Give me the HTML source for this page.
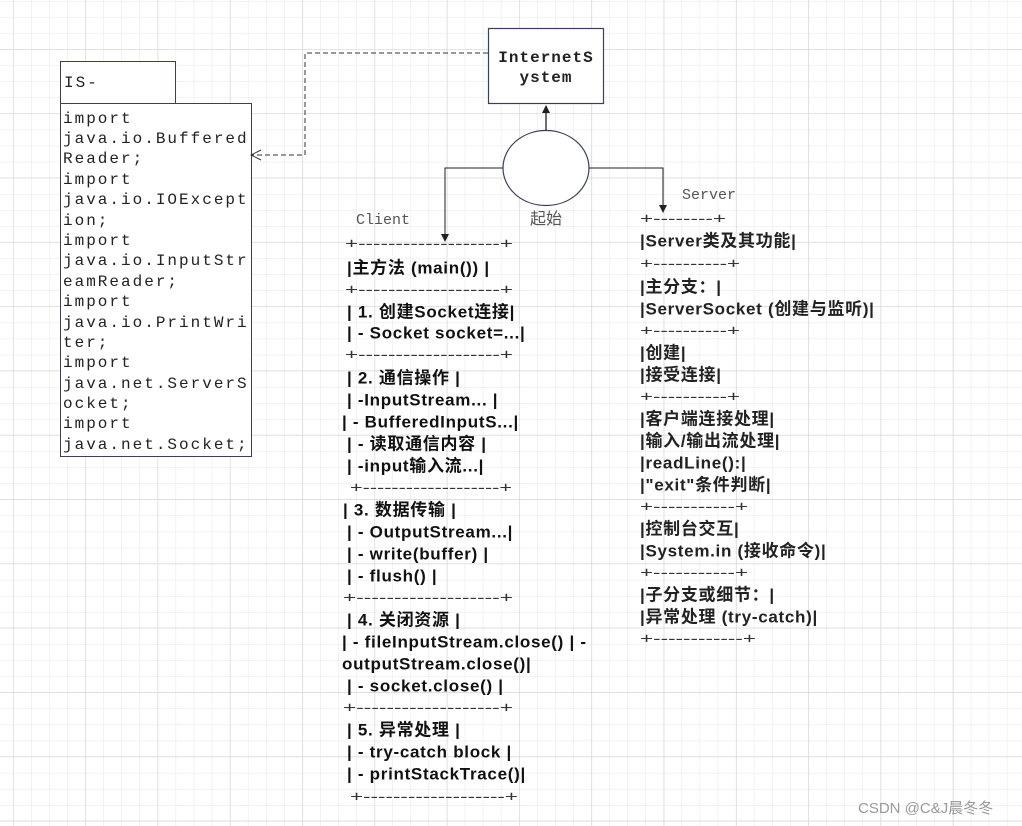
<!DOCTYPE html>
<html><head><meta charset="utf-8"><style>
html,body{margin:0;padding:0;background:#fff}
svg{display:block}
.m{font-family:"Liberation Mono","Noto Serif CJK SC",monospace;font-size:16px;fill:#222;letter-spacing:2px}
.b{font-family:"Liberation Sans","Noto Sans CJK SC",sans-serif;font-size:17px;font-weight:bold;fill:#111;letter-spacing:0.7px}
.p{font-family:"Liberation Sans",sans-serif;font-size:15px;fill:#333;font-weight:normal;letter-spacing:0}
.g{font-family:"Liberation Mono","Noto Sans CJK SC",monospace;font-size:15px;fill:#555}
</style></head><body>
<svg width="1022" height="826" xmlns="http://www.w3.org/2000/svg">
<defs>
<pattern id="mi" x="13" y="1" width="18.07" height="16.08" patternUnits="userSpaceOnUse">
<path d="M0 0V16.08M0 0H18.07" stroke="#e6e6e6" stroke-width="1" fill="none"/></pattern>
<pattern id="ma" x="13" y="49" width="72.3" height="64.3" patternUnits="userSpaceOnUse">
<path d="M0 0V64.3M0 0H72.3" stroke="#d6d6d6" stroke-width="1.3" fill="none"/></pattern>
<marker id="ar" markerWidth="8" markerHeight="8" refX="7" refY="4" orient="auto" markerUnits="userSpaceOnUse">
<path d="M0 0L8 4L0 8z" fill="#222"/></marker>
<marker id="oa" markerWidth="12" markerHeight="12" refX="11" refY="6" orient="auto" markerUnits="userSpaceOnUse">
<path d="M1 1L11 6L1 11" stroke="#333" fill="none"/></marker>
</defs>
<rect width="1022" height="826" fill="url(#mi)"/>
<rect width="1022" height="826" fill="url(#ma)"/>

<!-- package -->
<rect x="60.5" y="61.5" width="115" height="42" fill="#fff" stroke="#3a3f5c"/>
<rect x="60.5" y="103.5" width="191" height="353" fill="#fff" stroke="#3a3f5c"/>
<text class="m" x="64" y="87">IS-</text>
<g class="m">
<text x="63" y="123">import</text>
<text x="63" y="143">java.io.Buffered</text>
<text x="63" y="163">Reader;</text>
<text x="63" y="184">import</text>
<text x="63" y="204">java.io.IOExcept</text>
<text x="63" y="225">ion;</text>
<text x="63" y="245">import</text>
<text x="63" y="265">java.io.InputStr</text>
<text x="63" y="286">eamReader;</text>
<text x="63" y="306">import</text>
<text x="63" y="327">java.io.PrintWri</text>
<text x="63" y="347">ter;</text>
<text x="63" y="367">import</text>
<text x="63" y="388">java.net.ServerS</text>
<text x="63" y="408">ocket;</text>
<text x="63" y="428">import</text>
<text x="63" y="449">java.net.Socket;</text>
</g>

<!-- InternetSystem -->
<rect x="488.5" y="28.5" width="115" height="75" fill="#fff" stroke="#3a3f5c" stroke-width="1.2"/>
<text class="m" x="546" y="62" text-anchor="middle" font-weight="bold" style="letter-spacing:1px">InternetS</text>
<text class="m" x="546" y="82" text-anchor="middle" font-weight="bold" style="letter-spacing:1px">ystem</text>

<path d="M488 53H305V155H251" stroke="#333" stroke-dasharray="5,3" fill="none" marker-end="url(#oa)"/>

<ellipse cx="546" cy="168" rx="43" ry="37.5" fill="#fff" stroke="#3a3f5c" stroke-width="1.2"/>
<path d="M546 130V106" stroke="#222" stroke-width="1.3" marker-end="url(#ar)"/>
<path d="M503 168H445V241" stroke="#222" fill="none" marker-end="url(#ar)"/>
<path d="M589 168H663V212" stroke="#222" fill="none" marker-end="url(#ar)"/>
<text class="g" x="546" y="224" text-anchor="middle" font-family="Noto Serif CJK SC" style="font-size:16px">起始</text>
<text class="g" x="356" y="224">Client</text>
<text class="g" x="682" y="199">Server</text>

<!-- client -->
<g class="b" dominant-baseline="central">
<text class="p" x="345" y="244" textLength="168" lengthAdjust="spacingAndGlyphs">+-------------------+</text>
<text x="347" y="268">|主方法 (main()) |</text>
<text class="p" x="345" y="290" textLength="168" lengthAdjust="spacingAndGlyphs">+-------------------+</text>
<text x="347" y="312">| 1. 创建Socket连接|</text>
<text x="347" y="333">| - Socket socket=...|</text>
<text class="p" x="345" y="355" textLength="168" lengthAdjust="spacingAndGlyphs">+-------------------+</text>
<text x="347" y="378">| 2. 通信操作 |</text>
<text x="347" y="400">| -InputStream... |</text>
<text x="342" y="422">| - BufferedInputS...|</text>
<text x="347" y="444">| - 读取通信内容 |</text>
<text x="347" y="466">| -input输入流...|</text>
<text class="p" x="350" y="488" textLength="162" lengthAdjust="spacingAndGlyphs">+-------------------+</text>
<text x="343" y="510">| 3. 数据传输 |</text>
<text x="347" y="532">| - OutputStream...|</text>
<text x="347" y="554">| - write(buffer) |</text>
<text x="347" y="576">| - flush() |</text>
<text class="p" x="343" y="598" textLength="170" lengthAdjust="spacingAndGlyphs">+-------------------+</text>
<text x="347" y="620">| 4. 关闭资源 |</text>
<text x="342" y="642">| - fileInputStream.close() | -</text>
<text x="342" y="664">outputStream.close()|</text>
<text x="347" y="686">| - socket.close() |</text>
<text class="p" x="343" y="708" textLength="170" lengthAdjust="spacingAndGlyphs">+-------------------+</text>
<text x="347" y="730">| 5. 异常处理 |</text>
<text x="347" y="752">| - try-catch block |</text>
<text x="347" y="774">| - printStackTrace()|</text>
<text class="p" x="350" y="797" textLength="168" lengthAdjust="spacingAndGlyphs">+-------------------+</text>
</g>

<!-- server -->
<g class="b" dominant-baseline="central" style="fill:#222">
<text class="p" x="640" y="219" textLength="86" lengthAdjust="spacingAndGlyphs">+--------+</text>
<text x="640" y="241">|Server类及其功能|</text>
<text class="p" x="640" y="264" textLength="100" lengthAdjust="spacingAndGlyphs">+----------+</text>
<text x="640" y="287">|主分支：|</text>
<text x="640" y="309">|ServerSocket (创建与监听)|</text>
<text class="p" x="640" y="331" textLength="100" lengthAdjust="spacingAndGlyphs">+----------+</text>
<text x="640" y="353">|创建|</text>
<text x="640" y="375">|接受连接|</text>
<text class="p" x="640" y="397" textLength="100" lengthAdjust="spacingAndGlyphs">+----------+</text>
<text x="640" y="419">|客户端连接处理|</text>
<text x="640" y="441">|输入/输出流处理|</text>
<text x="640" y="463">|readLine():|</text>
<text x="640" y="485">|"exit"条件判断|</text>
<text class="p" x="640" y="507" textLength="108" lengthAdjust="spacingAndGlyphs">+-----------+</text>
<text x="640" y="529">|控制台交互|</text>
<text x="640" y="551">|System.in (接收命令)|</text>
<text class="p" x="640" y="573" textLength="108" lengthAdjust="spacingAndGlyphs">+-----------+</text>
<text x="640" y="595">|子分支或细节：|</text>
<text x="640" y="617">|异常处理 (try-catch)|</text>
<text class="p" x="640" y="639" textLength="116" lengthAdjust="spacingAndGlyphs">+------------+</text>
</g>

<text x="858" y="813" font-family="Liberation Sans,Noto Sans CJK SC,sans-serif" font-size="15" fill="#999">CSDN @C&amp;J晨冬冬</text>
</svg>
</body></html>
